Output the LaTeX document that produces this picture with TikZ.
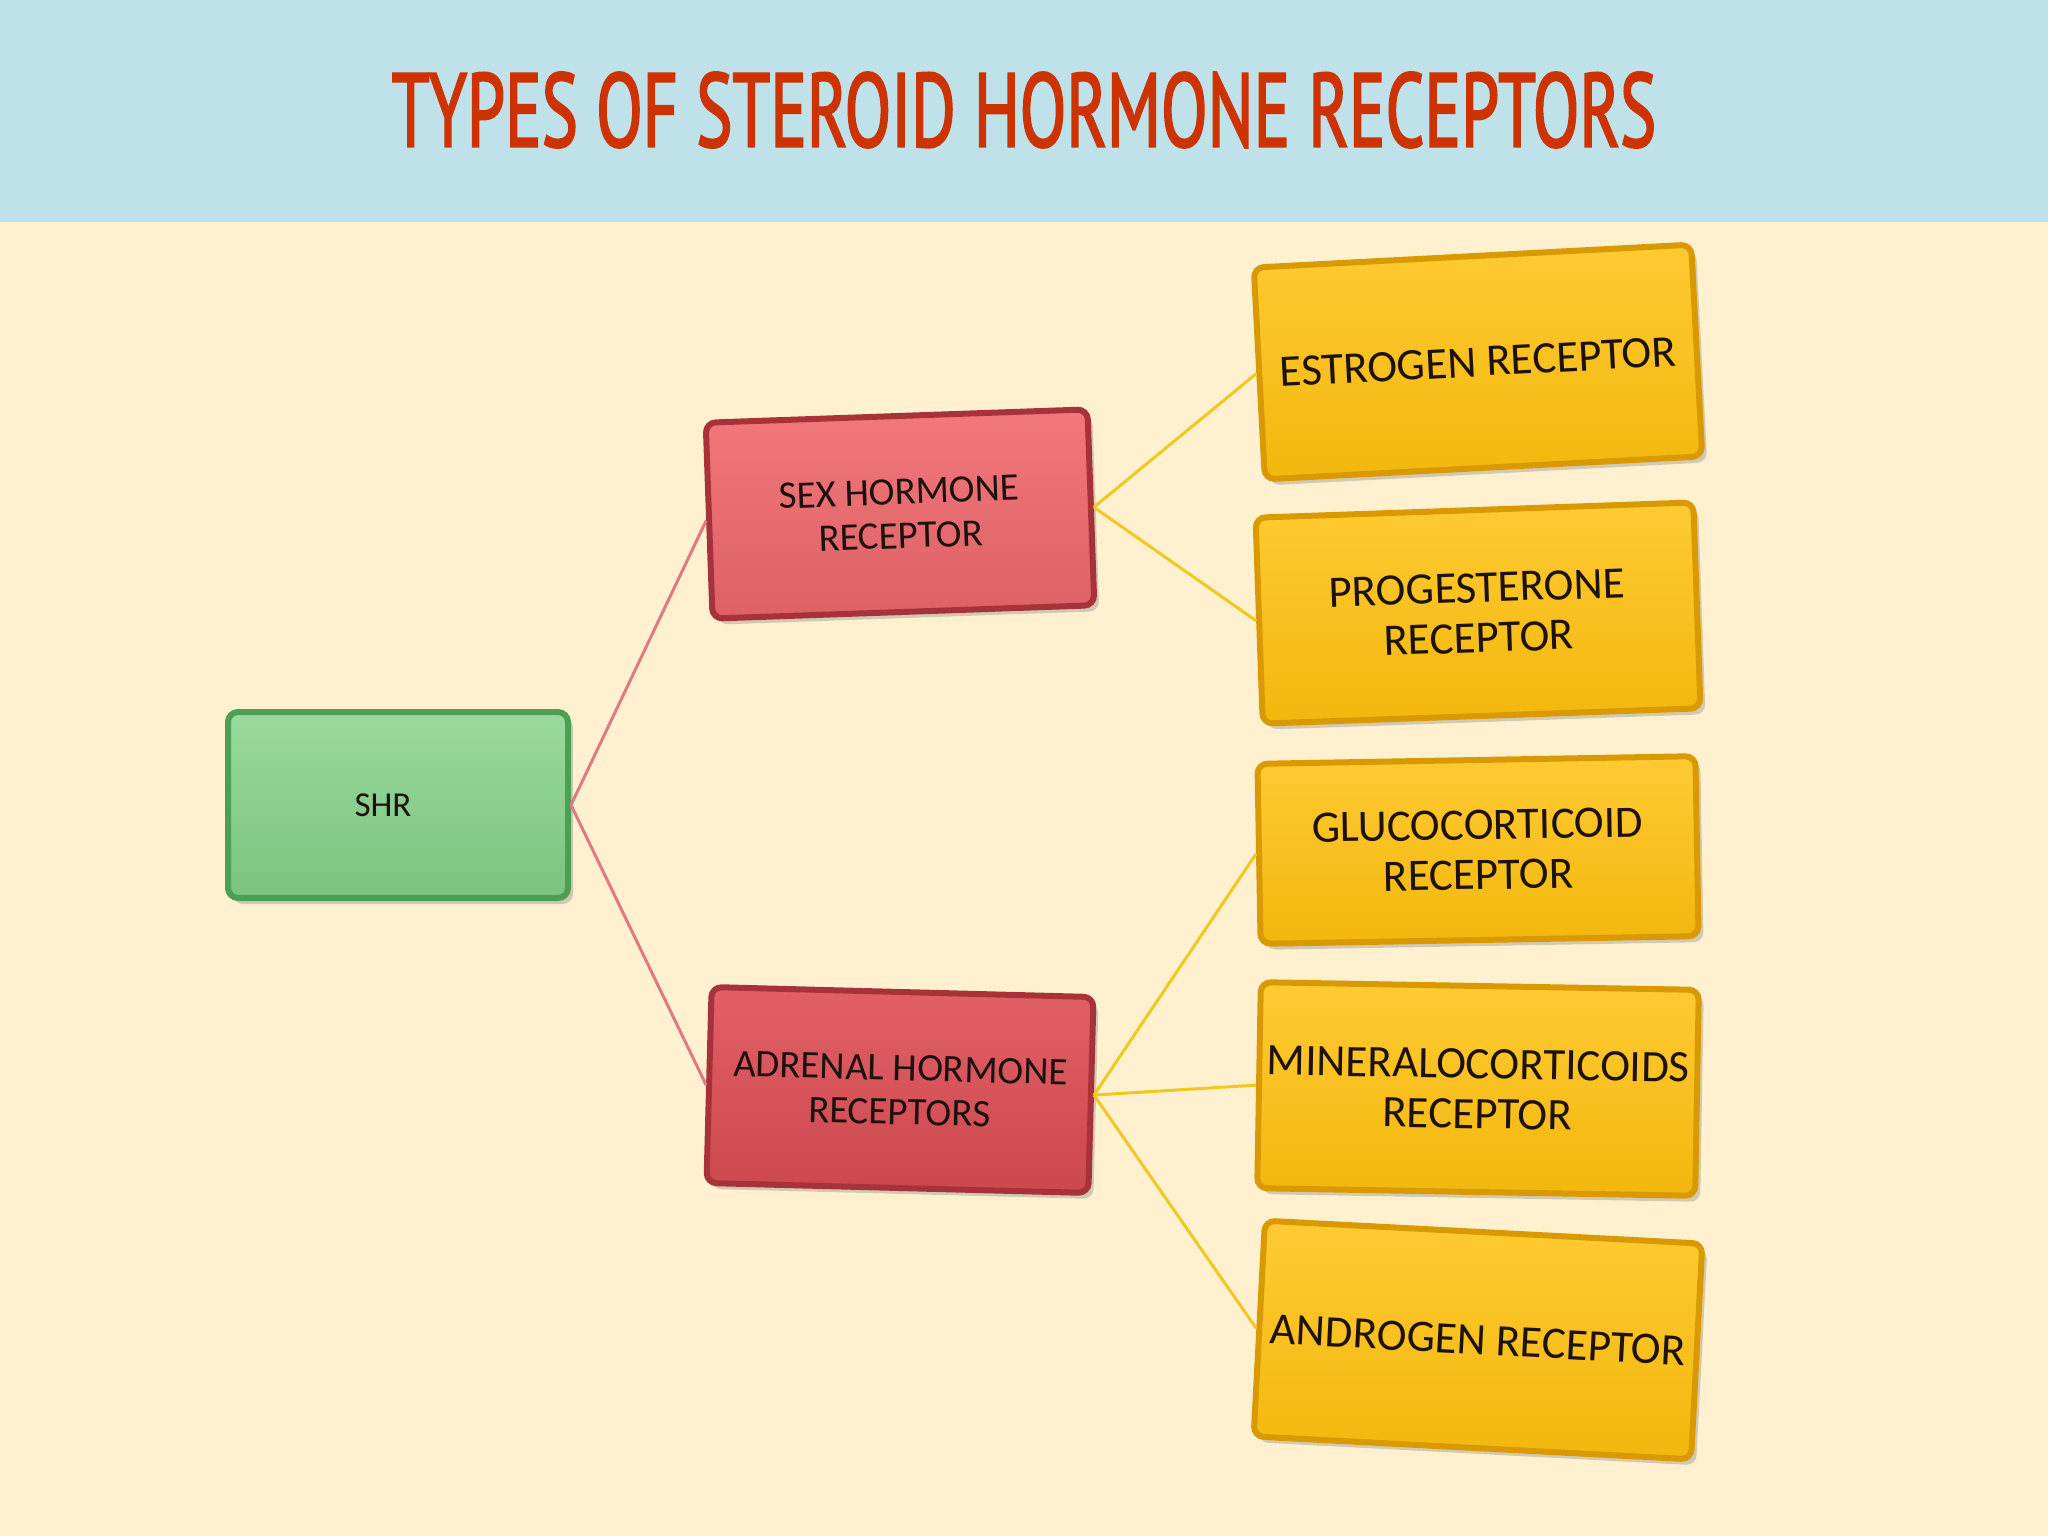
\documentclass[tikz,border=0pt]{standalone}
\usepackage{fontspec}
\setmainfont{Carlito}
\newfontfamily\titlefont[FakeBold=2.5]{PT Sans}
\usetikzlibrary{shadows}
\definecolor{headblue}{HTML}{BFE1E9}
\definecolor{cream}{HTML}{FFF1CF}
\definecolor{titlered}{HTML}{CC3300}
\definecolor{greenface}{HTML}{86D48A}
\definecolor{greenedge}{HTML}{4E9E55}
\definecolor{sexface}{HTML}{F0696E}
\definecolor{adrface}{HTML}{DE4E56}
\definecolor{rededge}{HTML}{A8323A}
\definecolor{yelface}{HTML}{FFC10E}
\definecolor{yeledge}{HTML}{D89A00}
\definecolor{redline}{HTML}{E07A82}
\definecolor{yelline}{HTML}{F0C820}
\definecolor{boxtext}{HTML}{1E120C}
\tikzset{
  box/.style={rectangle, rounded corners=10pt, line width=6pt, align=center,
    text=boxtext, font=\fontsize{39}{44}\selectfont, inner sep=0pt,
    drop shadow={shadow xshift=5pt, shadow yshift=-6pt, opacity=0.35}},
  greenbox/.style={box, draw=greenedge, top color=greenface!85!white, bottom color=greenface!92!black, font=\fontsize{35}{40}\selectfont},
  sexbox/.style={box, draw=rededge, top color=sexface!90!white, bottom color=sexface!92!black},
  adrbox/.style={box, draw=rededge, top color=adrface!90!white, bottom color=adrface!92!black},
  yelbox/.style={box, draw=yeledge, top color=yelface!85!white, bottom color=yelface!95!black, font=\fontsize{45}{50}\selectfont},
  redlink/.style={draw=redline, line width=3pt},
  yellink/.style={draw=yelline, line width=3pt}
}
\begin{document}
\begin{tikzpicture}[x=1pt,y=-1pt]
\useasboundingbox (0,0) rectangle (2048,1536);
\fill[cream] (0,0) rectangle (2048,1536);
\fill[headblue] (0,0) rectangle (2048,222);
\node[text=titlered, inner sep=0pt] (title) at (1024,110)
  {\resizebox{1264pt}{74pt}{\titlefont TYPES OF STEROID HORMONE RECEPTORS}};

\node[greenbox, minimum width=340pt, minimum height=186pt, text width=320pt, align=center] (shr) at (398,805) {\hspace*{-30pt}SHR};
\node[sexbox, minimum width=382pt, minimum height=196pt, rotate=2] (sex) at (900,514) {SEX HORMONE\\RECEPTOR};
\node[adrbox, minimum width=382pt, minimum height=196pt, rotate=-1.5] (adr) at (900,1090) {ADRENAL HORMONE\\RECEPTORS};

\node[yelbox, minimum width=438pt, minimum height=212pt, rotate=3] (est) at (1478,362) {ESTROGEN RECEPTOR};
\node[yelbox, minimum width=438pt, minimum height=206pt, rotate=2] (pro) at (1478,613) {PROGESTERONE\\RECEPTOR};
\node[yelbox, minimum width=438pt, minimum height=180pt, rotate=1] (glu) at (1478,850) {GLUCOCORTICOID\\RECEPTOR};
\node[yelbox, minimum width=438pt, minimum height=206pt, rotate=-1] (min) at (1478,1089) {MINERALOCORTICOIDS\\RECEPTOR};
\node[yelbox, minimum width=438pt, minimum height=216pt, rotate=-3] (and) at (1478,1340) {ANDROGEN RECEPTOR};

\draw[redlink] (shr.east) -- (sex.west);
\draw[redlink] (shr.east) -- (adr.west);
\draw[yellink] (sex.east) -- (est.west);
\draw[yellink] (sex.east) -- (pro.west);
\draw[yellink] (adr.east) -- (glu.west);
\draw[yellink] (adr.east) -- (min.west);
\draw[yellink] (adr.east) -- (and.west);
\end{tikzpicture}
\end{document}
